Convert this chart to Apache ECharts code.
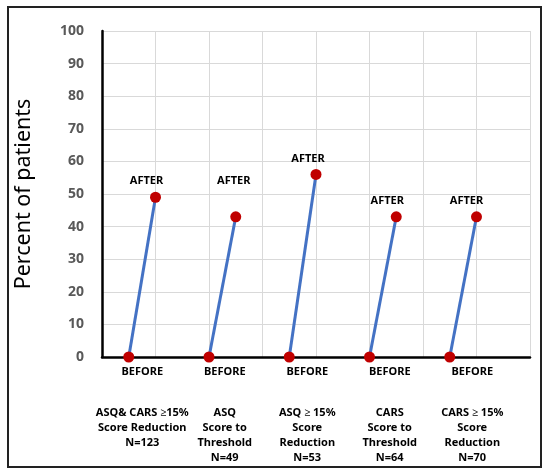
<!DOCTYPE html>
<html>
<head>
<meta charset="utf-8">
<script src="https://cdn.jsdelivr.net/npm/echarts@6/dist/echarts.min.js"></script>
<style>
  html, body { margin: 0; padding: 0; background: #fff; }
  #chart { width: 550px; height: 475px; }
</style>
</head>
<body>
<div id="chart"></div>
<script>
var categories = [
  'ASQ& CARS ≥15%\nScore Reduction\nN=123',
  'ASQ\nScore to\nThreshold\nN=49',
  'ASQ ≥ 15%\nScore\nReduction\nN=53',
  'CARS\nScore to\nThreshold\nN=64',
  'CARS ≥ 15%\nScore\nReduction\nN=70'
];
var beforeValues = [0, 0, 0, 0, 0];
var afterValues = [49, 43, 56, 43, 43];
var yTicks = [0, 10, 20, 30, 40, 50, 60, 70, 80, 90, 100];

(function() {
  var chart = echarts.init(document.getElementById('chart'));
  var font = 'Noto Sans';
  // AFTER label nudges, second one sits higher in the original
  var afterOffsets = [[-9, 0], [-2, -20], [-8, 0], [-9, 0], [-10, 0]];

  var series = categories.map(function(cat, i) {
    var xBefore = 0.5 + 1.5 * i;
    return {
      type: 'line',
      xAxisIndex: 0,
      yAxisIndex: 0,
      symbol: 'circle',
      symbolSize: 11,
      itemStyle: { color: '#C00000' },
      lineStyle: { color: '#4472C4', width: 3 },
      z: 3,
      data: [
        { value: [xBefore, beforeValues[i]] },
        {
          value: [xBefore + 0.5, afterValues[i]],
          label: {
            show: true,
            position: 'top',
            distance: 5,
            offset: afterOffsets[i],
            formatter: 'AFTER',
            color: '#000',
            fontFamily: font,
            fontWeight: 'bold',
            fontSize: 11
          }
        }
      ]
    };
  });

  var option = {
    animation: false,
    backgroundColor: '#fff',
    graphic: [{
      type: 'rect',
      shape: { x: 8, y: 7, width: 533, height: 460 },
      style: { fill: 'none', stroke: '#222', lineWidth: 2 },
      z: 0
    }],
    grid: [
      { left: 102, right: 20, top: 31, bottom: 118 },
      { left: 101, right: 36.5, top: 31, bottom: 118 }
    ],
    xAxis: [
      {
        type: 'value',
        gridIndex: 0,
        min: 0,
        max: 8,
        interval: 1,
        axisLine: { show: true, onZero: false, lineStyle: { color: '#000', width: 2.5 } },
        axisTick: { show: false },
        axisLabel: { show: false },
        splitLine: { show: true, lineStyle: { color: '#d9d9d9', width: 1 } }
      },
      {
        type: 'category',
        gridIndex: 1,
        data: categories,
        boundaryGap: true,
        axisLine: { show: false },
        axisTick: { show: false },
        splitLine: { show: false },
        axisLabel: {
          interval: 0,
          margin: 7,
          formatter: function(val) {
            var lines = val.split('\n').map(function(l) { return '{c|' + l + '}'; });
            return '{b|BEFORE}\n{s| }\n' + lines.join('\n');
          },
          rich: {
            b: { fontFamily: font, fontWeight: 'bold', fontSize: 11, color: '#000', lineHeight: 16 },
            s: { fontSize: 4, lineHeight: 25 },
            c: { fontFamily: font, fontWeight: 'bold', fontSize: 11, color: '#000', lineHeight: 15 }
          }
        }
      }
    ],
    yAxis: [
      {
        type: 'value',
        gridIndex: 0,
        min: 0,
        max: 100,
        interval: 10,
        name: 'Percent of patients',
        nameLocation: 'middle',
        nameGap: 67,
        nameTextStyle: { fontFamily: font, fontSize: 21.5, color: '#000' },
        axisLine: { show: true, lineStyle: { color: '#000', width: 2.5 } },
        axisTick: { show: false },
        axisLabel: {
          margin: 18,
          fontFamily: font,
          fontWeight: 'bold',
          fontSize: 14,
          color: '#595959',
          formatter: function(v) { return yTicks.indexOf(v) > -1 ? String(v) : ''; }
        },
        splitLine: { show: true, lineStyle: { color: '#d9d9d9', width: 1 } }
      },
      {
        type: 'value',
        gridIndex: 1,
        min: 0,
        max: 100,
        show: false
      }
    ],
    series: series
  };
  chart.setOption(option);
})();
</script>
</body>
</html>
